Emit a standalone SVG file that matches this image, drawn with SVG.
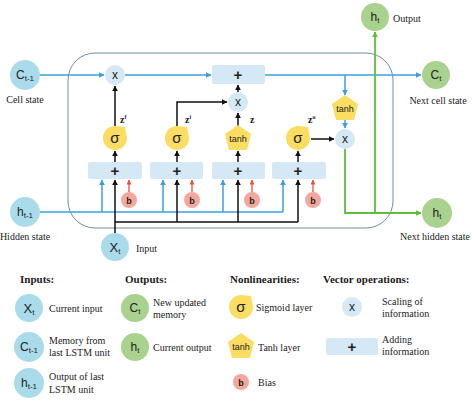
<svg xmlns="http://www.w3.org/2000/svg" width="474" height="401" viewBox="0 0 474 401">
<style>
.lbl{font-family:"Liberation Serif",serif;font-size:10px;fill:#222}
.hdr{font-family:"Liberation Serif",serif;font-size:11px;font-weight:bold;fill:#222}
.nd{font-family:"Liberation Sans",Arial,sans-serif;fill:#222;text-anchor:middle}
.zl{font-family:"Liberation Serif",serif;font-size:10px;font-weight:bold;fill:#222}
.inp{fill:#a9dbeb}
.out{fill:#a9d28e}
.sig{fill:#fbdd62}
.op{fill:#d5e8f6}
.bias{fill:#f3a79d}
.bl{stroke:#3c9fdb;stroke-width:1.5;fill:none}
.bk{stroke:#111;stroke-width:1.5;fill:none}
.rd{stroke:#e5553a;stroke-width:1.3;fill:none}
.gr{stroke:#5fbd3c;stroke-width:1.8;fill:none}
</style>
<defs>
<marker id="ak" viewBox="0 0 10 10" refX="9" refY="5" markerWidth="6" markerHeight="6" orient="auto" markerUnits="userSpaceOnUse"><path d="M0,0 L10,5 L0,10 z" fill="#111"/></marker>
<marker id="ab" viewBox="0 0 10 10" refX="9" refY="5" markerWidth="6" markerHeight="6" orient="auto" markerUnits="userSpaceOnUse"><path d="M0,0 L10,5 L0,10 z" fill="#3c9fdb"/></marker>
<marker id="ar" viewBox="0 0 10 10" refX="9" refY="5" markerWidth="5" markerHeight="5" orient="auto" markerUnits="userSpaceOnUse"><path d="M0,0 L10,5 L0,10 z" fill="#e5553a"/></marker>
<marker id="ag" viewBox="0 0 10 10" refX="9" refY="5" markerWidth="6" markerHeight="6" orient="auto" markerUnits="userSpaceOnUse"><path d="M0,0 L10,5 L0,10 z" fill="#5fbd3c"/></marker>
</defs>
<rect width="474" height="401" fill="#fff"/>
<g id="cell">
<rect x="68" y="53" width="325" height="175" rx="27" ry="27" fill="none" stroke="#6d8fac" stroke-width="1"/>
</g>
<g id="connectors">
<path class="bl" d="M40,75 L104,75" marker-end="url(#ab)"/>
<path class="bl" d="M125,75 L211,75" marker-end="url(#ab)"/>
<path class="bl" d="M265,75 L421,75" marker-end="url(#ab)"/>
<path class="bl" d="M345,75 L345,95" marker-end="url(#ab)"/>
<path class="bl" d="M345,120 L345,128" marker-end="url(#ab)"/>
<path class="bl" d="M40,212 L283,212"/>
<path class="bl" d="M102,212 L102,180" marker-end="url(#ab)"/>
<path class="bl" d="M163,212 L163,180" marker-end="url(#ab)"/>
<path class="bl" d="M223,212 L223,180" marker-end="url(#ab)"/>
<path class="bl" d="M283,212 L283,180" marker-end="url(#ab)"/>
<path class="bk" d="M115,233 L115,180" marker-end="url(#ak)"/>
<path class="bk" d="M115,222 L298,222"/>
<path class="bk" d="M177,222 L177,180" marker-end="url(#ak)"/>
<path class="bk" d="M238,222 L238,180" marker-end="url(#ak)"/>
<path class="bk" d="M298,222 L298,180" marker-end="url(#ak)"/>
<path class="bk" d="M115,162 L115,151" marker-end="url(#ak)"/>
<path class="bk" d="M177,162 L177,151" marker-end="url(#ak)"/>
<path class="bk" d="M238,162 L238,151" marker-end="url(#ak)"/>
<path class="bk" d="M298,162 L298,151" marker-end="url(#ak)"/>
<path class="bk" d="M115,126 L115,86" marker-end="url(#ak)"/>
<path class="bk" d="M177,126 L177,102 L227,102" marker-end="url(#ak)"/>
<path class="bk" d="M238,126 L238,113" marker-end="url(#ak)"/>
<path class="bk" d="M238,92 L238,85" marker-end="url(#ak)"/>
<path class="bk" d="M311,139 L334,139" marker-end="url(#ak)"/>
<path class="rd" d="M129,192 L129,180" marker-end="url(#ar)"/>
<path class="rd" d="M192,192 L192,180" marker-end="url(#ar)"/>
<path class="rd" d="M252,192 L252,180" marker-end="url(#ar)"/>
<path class="rd" d="M313,192 L313,180" marker-end="url(#ar)"/>
<path class="gr" d="M345,149 L345,213 L421,213" marker-end="url(#ag)"/>
<path class="gr" d="M375,213 L375,32" marker-end="url(#ag)"/>
</g>
<g id="c_prev"><circle class="inp" cx="25" cy="75" r="15"/><text class="nd" x="25" y="79" font-size="12">C<tspan font-size="8" dy="2">t-1</tspan></text><text class="lbl" x="25" y="103" text-anchor="middle">Cell state</text></g>
<g id="h_prev"><circle class="inp" cx="25" cy="212" r="15"/><text class="nd" x="25" y="216" font-size="12">h<tspan font-size="8" dy="2">t-1</tspan></text><text class="lbl" x="25" y="240" text-anchor="middle">Hidden state</text></g>
<g id="x_t"><circle class="inp" cx="115" cy="247" r="14"/><text class="nd" x="115" y="252" font-size="13">X<tspan font-size="8" dy="2">t</tspan></text><text class="lbl" x="136" y="252">Input</text></g>
<g id="c_t"><circle class="out" cx="436" cy="75" r="14"/><text class="nd" x="436" y="79" font-size="12">C<tspan font-size="8" dy="2">t</tspan></text><text class="lbl" x="438" y="104" text-anchor="middle">Next cell state</text></g>
<g id="h_t"><circle class="out" cx="437" cy="213" r="15"/><text class="nd" x="437" y="217" font-size="12">h<tspan font-size="8" dy="2">t</tspan></text><text class="lbl" x="435" y="240" text-anchor="middle">Next hidden state</text></g>
<g id="h_out"><circle class="out" cx="375" cy="17" r="14"/><text class="nd" x="375" y="21" font-size="12">h<tspan font-size="8" dy="2">t</tspan></text><text class="lbl" x="393" y="22">Output</text></g>
<g id="mul_f"><circle class="op" cx="115" cy="75" r="10"/><text class="nd" x="115" y="79" font-size="12">x</text></g>
<g id="add_c"><rect class="op" x="212" y="65" width="53" height="19" rx="2"/><text class="nd" x="238" y="80" font-size="15" font-weight="bold">+</text></g>
<g id="mul_i"><circle class="op" cx="238" cy="102" r="10"/><text class="nd" x="238" y="106" font-size="12">x</text></g>
<g id="tanh_c"><path class="sig" d="M345,95 L358,104 L354,120 L336,120 L332,104 Z"/><text class="nd" x="345" y="112" font-size="9">tanh</text></g>
<g id="mul_o"><circle class="op" cx="345" cy="139" r="10"/><text class="nd" x="345" y="143" font-size="12">x</text></g>
<g id="gate_f"><rect class="op" x="88" y="162" width="54" height="17" rx="2"/><text class="nd" x="115" y="176" font-size="15" font-weight="bold">+</text>
<path class="sig" d="M115,126 A12,12 0 1,0 127,138 L125,127 Z"/><text class="nd" x="115" y="143" font-size="15">σ</text>
<text class="zl" x="120" y="123">z<tspan font-size="6" dy="-4">f</tspan></text>
<circle class="bias" cx="129" cy="200" r="8"/><text class="nd" x="129" y="204" font-size="9" font-weight="bold">b</text></g>
<g id="gate_i"><rect class="op" x="150" y="162" width="53" height="17" rx="2"/><text class="nd" x="177" y="176" font-size="15" font-weight="bold">+</text>
<path class="sig" d="M177,126 A12,12 0 1,0 189,138 L187,127 Z"/><text class="nd" x="177" y="143" font-size="15">σ</text>
<text class="zl" x="185" y="123">z<tspan font-size="6" dy="-4">i</tspan></text>
<circle class="bias" cx="192" cy="200" r="8"/><text class="nd" x="192" y="204" font-size="9" font-weight="bold">b</text></g>
<g id="gate_z"><rect class="op" x="212" y="162" width="53" height="17" rx="2"/><text class="nd" x="238" y="176" font-size="15" font-weight="bold">+</text>
<path class="sig" d="M238,125 L251,134 L247,150 L229,150 L225,134 Z"/><text class="nd" x="238" y="142" font-size="9">tanh</text>
<text class="zl" x="250" y="123">z</text>
<circle class="bias" cx="252" cy="200" r="8"/><text class="nd" x="252" y="204" font-size="9" font-weight="bold">b</text></g>
<g id="gate_o"><rect class="op" x="272" y="162" width="54" height="17" rx="2"/><text class="nd" x="298" y="176" font-size="15" font-weight="bold">+</text>
<path class="sig" d="M298,126 A12,12 0 1,0 310,138 L308,127 Z"/><text class="nd" x="298" y="143" font-size="15">σ</text>
<text class="zl" x="308" y="123">z<tspan font-size="6" dy="-4">o</tspan></text>
<circle class="bias" cx="313" cy="200" r="8"/><text class="nd" x="313" y="204" font-size="9" font-weight="bold">b</text></g>
<g id="legend">
<text class="hdr" x="20" y="283">Inputs:</text>
<circle class="inp" cx="29" cy="308" r="14"/><text class="nd" x="29" y="313" font-size="13">X<tspan font-size="8" dy="2">t</tspan></text>
<text class="lbl" x="49" y="312">Current input</text>
<circle class="inp" cx="29" cy="347" r="15"/><text class="nd" x="29" y="351" font-size="12">C<tspan font-size="8" dy="2">t-1</tspan></text>
<text class="lbl" x="49" y="344">Memory from</text><text class="lbl" x="49" y="356">last LSTM unit</text>
<circle class="inp" cx="29" cy="383" r="15"/><text class="nd" x="29" y="387" font-size="12">h<tspan font-size="8" dy="2">t-1</tspan></text>
<text class="lbl" x="49" y="380">Output of last</text><text class="lbl" x="49" y="393">LSTM unit</text>
<text class="hdr" x="125" y="283">Outputs:</text>
<circle class="out" cx="135" cy="308" r="14"/><text class="nd" x="135" y="312" font-size="12">C<tspan font-size="8" dy="2">t</tspan></text>
<text class="lbl" x="153" y="306">New updated</text><text class="lbl" x="153" y="318">memory</text>
<circle class="out" cx="135" cy="347" r="14"/><text class="nd" x="135" y="351" font-size="12">h<tspan font-size="8" dy="2">t</tspan></text>
<text class="lbl" x="153" y="351">Current output</text>
<text class="hdr" x="230" y="283">Nonlinearities:</text>
<path class="sig" d="M241,295 A12,12 0 1,0 253,307 L251,296 Z"/><text class="nd" x="241" y="312" font-size="15">σ</text>
<text class="lbl" x="256" y="311">Sigmoid layer</text>
<path class="sig" d="M241,333 L254,342 L250,358 L232,358 L228,342 Z"/><text class="nd" x="241" y="350" font-size="9">tanh</text>
<text class="lbl" x="258" y="351">Tanh layer</text>
<circle class="bias" cx="241" cy="382" r="8"/><text class="nd" x="241" y="386" font-size="9" font-weight="bold">b</text>
<text class="lbl" x="258" y="386">Bias</text>
<text class="hdr" x="323" y="283">Vector operations:</text>
<circle class="op" cx="352" cy="307" r="10"/><text class="nd" x="352" y="311" font-size="12">x</text>
<text class="lbl" x="382" y="305">Scaling of</text><text class="lbl" x="382" y="317">information</text>
<rect class="op" x="326" y="338" width="52" height="17" rx="2"/><text class="nd" x="352" y="352" font-size="15" font-weight="bold">+</text>
<text class="lbl" x="382" y="343">Adding</text><text class="lbl" x="382" y="355">information</text>
</g>
</svg>
